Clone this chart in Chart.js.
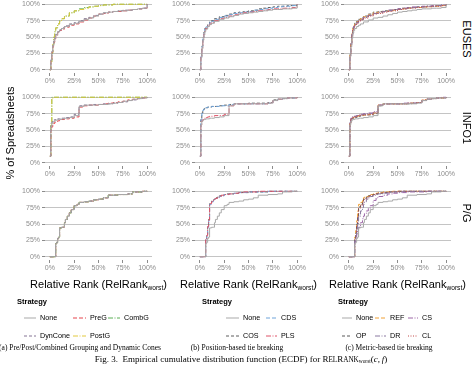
<!DOCTYPE html>
<html>
<head>
<meta charset="utf-8">
<script src="https://cdn.jsdelivr.net/npm/chart.js@4.4.0/dist/chart.umd.min.js"></script>
<style>
  body { margin: 0; background: #fff; width: 474px; height: 367px; overflow: hidden; position: relative;
         font-family: "Liberation Sans", Arial, sans-serif; color: #000; }
  .t { position: absolute; white-space: nowrap; line-height: 1; }
  .rot-l { transform: translate(-50%, -50%) rotate(-90deg); }
  .rot-r { transform: translate(-50%, -50%) rotate(90deg); }
  .cx { transform: translate(-50%, -50%); }
  .cy { transform: translateY(-50%); }
  .serif { font-family: "Liberation Serif", "Times New Roman", serif; }
  sub { font-size: 0.6em; vertical-align: -0.25em; }
  svg.key { position: absolute; overflow: visible; }
</style>
</head>
<body>
<script>
// x positions (relative rank, %)
var rankGrid = [0, 1, 2, 3, 4, 5, 6, 8, 10, 12, 15, 20, 25, 30, 35, 40, 45, 50, 55, 60, 65, 70, 75, 80, 85, 90, 95, 100];
var pgGrid = [0, 5, 6, 7, 8, 9, 10, 12, 14, 15, 16, 18, 20, 22, 25, 28, 30, 35, 40, 45, 50, 55, 60, 70, 80, 85, 90, 95, 100];
var tickValues = [0, 25, 50, 75, 100];

// EUSES - grouping / dynamic cones
var eusesA_None    = [0, 15, 28, 37, 43, 48, 53, 58, 61, 63, 66, 69, 71, 74, 77, 79, 82, 85, 87, 88, 89, 90, 90, 91, 92, 93, 94, 100];
var eusesA_PreG    = [0, 14, 27, 36, 42, 47, 52, 57, 60, 62, 65, 68, 70, 73, 76, 79, 82, 85, 86, 88, 89, 89, 90, 91, 92, 93, 94, 100];
var eusesA_CombG   = [0, 12, 25, 38, 50, 58, 64, 70, 75, 78, 82, 87, 90, 93, 95, 96, 97, 98, 99, 99, 100, 100, 100, 100, 100, 100, 100, 100];
var eusesA_DynCone = [0, 15, 28, 37, 44, 49, 54, 58, 61, 64, 67, 70, 72, 75, 78, 80, 83, 85, 87, 88, 89, 90, 91, 91, 92, 93, 94, 100];
var eusesA_PostG   = [0, 12, 26, 39, 50, 58, 64, 70, 74, 78, 82, 87, 90, 92, 94, 96, 97, 98, 99, 99, 100, 100, 100, 100, 100, 100, 100, 100];

// EUSES - position-based
var eusesB_None = [0, 18, 32, 45, 53, 58, 62, 66, 69, 71, 74, 77, 79, 81, 83, 85, 86, 87, 88, 89, 90, 91, 92, 92, 93, 93, 94, 100];
var eusesB_CDS  = [0, 20, 35, 48, 56, 62, 65, 69, 72, 74, 77, 80, 82, 84, 86, 87, 88, 89, 91, 92, 93, 94, 95, 96, 97, 97, 98, 100];
var eusesB_COS  = [0, 20, 36, 49, 57, 63, 66, 70, 73, 75, 78, 81, 83, 85, 87, 88, 89, 90, 91, 93, 94, 95, 96, 97, 97, 98, 98, 100];
var eusesB_PLS  = [0, 19, 33, 46, 54, 59, 63, 67, 70, 72, 75, 78, 80, 82, 84, 86, 87, 88, 89, 90, 91, 92, 93, 93, 94, 94, 95, 100];

// EUSES - metric-based
var eusesC_None = [0, 20, 35, 48, 56, 60, 63, 66, 68, 70, 73, 76, 79, 80, 82, 84, 86, 88, 89, 90, 91, 92, 93, 93, 94, 94, 95, 100];
var eusesC_REF  = [0, 22, 40, 55, 63, 67, 70, 73, 76, 78, 81, 84, 87, 88, 89, 90, 91, 92, 93, 94, 95, 95, 96, 96, 97, 97, 98, 100];
var eusesC_CS   = [0, 22, 40, 54, 62, 66, 69, 72, 75, 77, 80, 83, 86, 88, 89, 91, 92, 93, 94, 95, 96, 96, 97, 97, 98, 98, 99, 100];
var eusesC_OP   = [0, 23, 41, 56, 64, 68, 71, 74, 77, 79, 82, 85, 88, 89, 90, 91, 92, 93, 94, 95, 95, 96, 96, 97, 97, 98, 98, 100];
var eusesC_DR   = [0, 21, 39, 53, 61, 66, 69, 72, 75, 77, 80, 83, 86, 87, 89, 90, 91, 92, 93, 94, 95, 96, 96, 97, 97, 98, 99, 100];
var eusesC_CL   = [0, 21, 38, 52, 60, 65, 68, 71, 74, 76, 79, 82, 85, 86, 88, 89, 90, 92, 93, 94, 94, 95, 96, 96, 97, 97, 98, 100];

// INFO1 - grouping / dynamic cones
var infoA_None    = [10, 55, 60, 62, 63, 64, 65, 66, 66, 67, 68, 69, 72, 86, 88, 88, 88, 89, 89, 90, 91, 92, 94, 95, 97, 98, 99, 100];
var infoA_PreG    = [10, 50, 55, 58, 60, 62, 63, 64, 65, 66, 67, 68, 70, 85, 87, 88, 88, 89, 90, 91, 92, 93, 94, 96, 97, 98, 99, 100];
var infoA_CombG   = [10, 60, 100, 100, 100, 100, 100, 100, 100, 100, 100, 100, 100, 100, 100, 100, 100, 100, 100, 100, 100, 100, 100, 100, 100, 100, 100, 100];
var infoA_DynCone = [10, 56, 62, 64, 65, 66, 66, 67, 67, 68, 69, 70, 74, 87, 88, 88, 89, 89, 90, 90, 91, 92, 93, 95, 96, 98, 99, 100];
var infoA_PostG   = [10, 58, 98, 100, 100, 100, 100, 100, 100, 100, 100, 100, 100, 100, 100, 100, 100, 100, 100, 100, 100, 100, 100, 100, 100, 100, 100, 100];

// INFO1 - position-based
var infoB_None = [10, 58, 63, 65, 66, 66, 67, 67, 68, 68, 69, 70, 72, 87, 90, 90, 90, 90, 90, 90, 90, 91, 95, 97, 98, 99, 99, 100];
var infoB_CDS  = [10, 65, 75, 80, 82, 83, 84, 85, 85, 86, 86, 87, 87, 89, 90, 90, 90, 90, 90, 90, 90, 91, 95, 97, 98, 99, 99, 100];
var infoB_COS  = [10, 66, 76, 80, 82, 83, 84, 85, 85, 86, 86, 87, 88, 89, 90, 90, 90, 91, 91, 91, 91, 92, 96, 97, 98, 99, 99, 100];
var infoB_PLS  = [10, 58, 64, 66, 67, 68, 69, 70, 71, 71, 72, 72, 74, 87, 90, 90, 90, 90, 90, 90, 90, 91, 95, 97, 98, 99, 99, 100];

// INFO1 - metric-based
var infoC_None = [10, 58, 63, 65, 66, 66, 67, 67, 68, 68, 69, 70, 72, 87, 90, 90, 90, 90, 90, 90, 90, 91, 95, 97, 98, 99, 99, 100];
var infoC_REF  = [10, 60, 66, 68, 69, 70, 70, 71, 72, 72, 73, 74, 76, 88, 90, 90, 90, 90, 90, 91, 91, 92, 96, 97, 98, 99, 99, 100];
var infoC_CS   = [10, 62, 68, 70, 70, 71, 71, 72, 73, 74, 75, 76, 78, 88, 90, 90, 90, 90, 91, 91, 91, 92, 95, 97, 98, 99, 100, 100];
var infoC_OP   = [10, 60, 65, 67, 68, 69, 69, 70, 71, 72, 73, 73, 75, 87, 90, 90, 90, 90, 90, 90, 91, 92, 95, 97, 98, 99, 99, 100];
var infoC_DR   = [10, 61, 67, 69, 70, 70, 71, 72, 72, 73, 74, 75, 77, 88, 90, 90, 90, 90, 90, 91, 91, 92, 95, 97, 98, 99, 99, 100];
var infoC_CL   = [10, 60, 66, 68, 69, 69, 70, 71, 72, 73, 73, 74, 76, 88, 90, 90, 90, 90, 90, 91, 91, 92, 96, 97, 98, 99, 99, 100];

// P/G (all grouping strategies coincide)
var pgA_All  = [0, 0, 20, 22, 28, 30, 44, 45, 45, 52, 57, 62, 67, 72, 78, 80, 83, 84, 85, 87, 88, 90, 94, 95, 96, 99, 99, 100, 100];

// P/G - position-based
var pgB_None = [0, 0, 20, 22, 28, 30, 44, 45, 45, 52, 57, 62, 67, 72, 78, 80, 83, 84, 85, 87, 88, 90, 94, 95, 96, 99, 99, 100, 100];
var pgB_CDS  = [0, 0, 25, 32, 45, 55, 80, 84, 86, 88, 89, 90, 92, 93, 95, 95, 96, 97, 98, 98, 99, 99, 99, 100, 100, 100, 100, 100, 100];
var pgB_COS  = [0, 0, 27, 33, 47, 57, 82, 85, 87, 88, 90, 91, 93, 94, 95, 96, 96, 97, 98, 98, 99, 99, 99, 100, 100, 100, 100, 100, 100];
var pgB_PLS  = [0, 0, 26, 32, 46, 56, 81, 84, 86, 88, 89, 91, 92, 94, 95, 95, 96, 97, 98, 99, 99, 99, 100, 100, 100, 100, 100, 100, 100];

// P/G - metric-based
var pgC_None = [0, 0, 20, 22, 28, 30, 44, 45, 45, 52, 57, 62, 67, 72, 78, 80, 83, 84, 85, 87, 88, 90, 94, 95, 96, 99, 99, 100, 100];
var pgC_REF  = [0, 0, 30, 40, 55, 70, 80, 83, 86, 90, 91, 92, 93, 95, 96, 97, 98, 99, 99, 100, 100, 100, 100, 100, 100, 100, 100, 100, 100];
var pgC_CS   = [0, 0, 22, 28, 35, 40, 45, 52, 58, 62, 66, 70, 74, 78, 86, 90, 92, 94, 96, 97, 98, 98, 99, 99, 100, 100, 100, 100, 100];
var pgC_OP   = [0, 0, 28, 36, 50, 62, 76, 80, 84, 88, 89, 91, 93, 94, 95, 96, 97, 98, 99, 99, 100, 100, 100, 100, 100, 100, 100, 100, 100];
var pgC_DR   = [0, 0, 24, 32, 42, 50, 62, 70, 75, 80, 84, 88, 90, 92, 94, 95, 96, 97, 98, 99, 99, 100, 100, 100, 100, 100, 100, 100, 100];
var pgC_CL   = [0, 0, 26, 34, 48, 60, 74, 78, 82, 86, 88, 90, 92, 94, 95, 96, 97, 98, 99, 99, 100, 100, 100, 100, 100, 100, 100, 100, 100];

var rowLabels = ["EUSES", "INFO1", "P/G"];
var captions = ["(a) Pre/Post/Combined Grouping and Dynamic Cones", "(b) Position-based tie breaking", "(c) Metric-based tie breaking"];

var dashDot = [5, 1.5, 1, 1.5];
var styles = {
  None:    { color: "#a9a9a9", dash: [] },
  PreG:    { color: "#e5454d", dash: [4, 2] },
  CombG:   { color: "#5aae55", dash: dashDot },
  DynCone: { color: "#857494", dash: [3, 2] },
  PostG:   { color: "#e2c93e", dash: dashDot },
  CDS:     { color: "#6fa4da", dash: [4, 2] },
  COS:     { color: "#5c5c5c", dash: [3, 2] },
  PLS:     { color: "#de5368", dash: dashDot },
  REF:     { color: "#f0a035", dash: [4, 2] },
  CS:      { color: "#9c66a6", dash: dashDot },
  OP:      { color: "#585858", dash: [3, 2] },
  DR:      { color: "#8a78a0", dash: dashDot },
  CL:      { color: "#c24a48", dash: [1, 1.5] }
};

var panels = [
  { row: 0, col: 0, grid: rankGrid, series: [["None", eusesA_None], ["DynCone", eusesA_DynCone], ["PreG", eusesA_PreG], ["PostG", eusesA_PostG], ["CombG", eusesA_CombG]] },
  { row: 0, col: 1, grid: rankGrid, series: [["None", eusesB_None], ["PLS", eusesB_PLS], ["CDS", eusesB_CDS], ["COS", eusesB_COS]] },
  { row: 0, col: 2, grid: rankGrid, series: [["None", eusesC_None], ["CL", eusesC_CL], ["DR", eusesC_DR], ["CS", eusesC_CS], ["REF", eusesC_REF], ["OP", eusesC_OP]] },
  { row: 1, col: 0, grid: rankGrid, series: [["None", infoA_None], ["DynCone", infoA_DynCone], ["PreG", infoA_PreG], ["PostG", infoA_PostG], ["CombG", infoA_CombG]] },
  { row: 1, col: 1, grid: rankGrid, series: [["None", infoB_None], ["PLS", infoB_PLS], ["CDS", infoB_CDS], ["COS", infoB_COS]] },
  { row: 1, col: 2, grid: rankGrid, series: [["None", infoC_None], ["CL", infoC_CL], ["DR", infoC_DR], ["CS", infoC_CS], ["REF", infoC_REF], ["OP", infoC_OP]] },
  { row: 2, col: 0, grid: pgGrid, series: [["None", pgA_All], ["DynCone", pgA_All], ["CombG", pgA_All], ["PreG", pgA_All], ["PostG", pgA_All]] },
  { row: 2, col: 1, grid: pgGrid, series: [["None", pgB_None], ["PLS", pgB_PLS], ["CDS", pgB_CDS], ["COS", pgB_COS]] },
  { row: 2, col: 2, grid: pgGrid, series: [["None", pgC_None], ["DR", pgC_DR], ["CS", pgC_CS], ["CL", pgC_CL], ["OP", pgC_OP], ["REF", pgC_REF]] }
];

// legend layout per column: [name, row, lineX, textX]
var legendItems = [
  [["None", 0, 24, 40], ["PreG", 0, 73, 90], ["CombG", 0, 108, 124], ["DynCone", 1, 24, 40], ["PostG", 1, 73, 90]],
  [["None", 0, 226, 243], ["CDS", 0, 266, 281], ["COS", 1, 226, 243], ["PLS", 1, 266, 281]],
  [["None", 0, 342, 356], ["REF", 0, 375, 390], ["CS", 0, 408, 422], ["OP", 1, 342, 356], ["DR", 1, 375, 390], ["CL", 1, 408, 422]]
];
var strategyX = [17, 202, 338];

var areaLeft = [45, 195, 344], areaTop = [1, 94, 188];
var areaW = 107, areaH = 72, yAxisW = 32, xAxisH = 16, padTop = 8, padRight = 8;
var tickFont = { family: "'Liberation Sans', Arial, sans-serif", size: 7 };

function setTicks(scale) {
  scale.ticks = tickValues.map(function (v) { return { value: v }; });
}

function addText(html, x, y, cls, style) {
  var d = document.createElement("div");
  d.className = "t " + cls;
  d.innerHTML = html;
  d.style.left = x + "px";
  d.style.top = y + "px";
  if (style) d.style.cssText += style;
  document.body.appendChild(d);
}

panels.forEach(function (p) {
  var cv = document.createElement("canvas");
  cv.width = yAxisW + areaW + padRight;
  cv.height = padTop + areaH + xAxisH;
  cv.style.cssText = "position:absolute;left:" + (areaLeft[p.col] - yAxisW) + "px;top:" + (areaTop[p.row] - padTop) + "px;";
  document.body.appendChild(cv);

  new Chart(cv, {
    type: "line",
    data: {
      datasets: p.series.map(function (s) {
        var st = styles[s[0]];
        return {
          label: s[0],
          data: p.grid.map(function (x, i) { return { x: x, y: s[1][i] }; }),
          borderColor: st.color,
          borderDash: st.dash,
          borderWidth: 1,
          pointRadius: 0,
          stepped: true,
          fill: false
        };
      })
    },
    options: {
      responsive: false,
      animation: false,
      events: [],
      layout: { padding: { top: padTop, right: padRight, left: 0, bottom: 0 } },
      plugins: { legend: { display: false }, tooltip: { enabled: false } },
      scales: {
        x: {
          type: "linear", min: -5, max: 105,
          afterBuildTicks: setTicks,
          afterFit: function (s) { s.height = xAxisH; },
          grid: { drawOnChartArea: false, drawTicks: true, tickLength: 3, tickColor: "#8c8c8c" },
          border: { display: false },
          ticks: { font: tickFont, color: "#8c8c8c", padding: 1, maxRotation: 0, callback: function (v) { return v + "%"; } }
        },
        y: {
          type: "linear", min: -5, max: 105,
          afterBuildTicks: setTicks,
          afterFit: function (s) { s.width = yAxisW; },
          grid: { color: "#c4c4c4", lineWidth: 1, drawTicks: true, tickLength: 3, tickColor: "#8c8c8c" },
          border: { display: false },
          ticks: { font: tickFont, color: "#8c8c8c", padding: 2, callback: function (v) { return v + "%"; } }
        }
      }
    }
  });
});

// axis titles and strip labels
addText("% of Spreadsheets", 10, 133, "rot-l", "font-size:11px;");
var stripY = [39, 128, 213];
rowLabels.forEach(function (t, i) { addText(t, 466, stripY[i], "rot-r", "font-size:11px;"); });
areaLeft.forEach(function (l) {
  addText("Relative Rank (RelRank<sub>worst</sub>)", l + areaW / 2, 285, "cx", "font-size:11px;");
});

// legends
strategyX.forEach(function (x) { addText("Strategy", x, 302, "cy", "font-size:7.5px;font-weight:bold;"); });
var legendRowY = [318, 336];
legendItems.forEach(function (items) {
  items.forEach(function (it) {
    var st = styles[it[0]];
    var y = legendRowY[it[1]];
    var len = it[3] - it[2] - 4;
    var svg = document.createElementNS("http://www.w3.org/2000/svg", "svg");
    svg.setAttribute("class", "key");
    svg.setAttribute("width", len);
    svg.setAttribute("height", 2);
    svg.style.left = it[2] + "px";
    svg.style.top = (y - 1) + "px";
    svg.innerHTML = '<line x1="0" y1="1" x2="' + len + '" y2="1" stroke="' + st.color + '" stroke-width="1" stroke-dasharray="' + st.dash.join(" ") + '"/>';
    document.body.appendChild(svg);
    addText(it[0], it[3], y, "cy", "font-size:7.2px;");
  });
});

// captions
var captionX = [80, 237, 389];
captions.forEach(function (c, i) { addText(c, captionX[i], 348, "cx serif", "font-size:7.5px;"); });
addText("Fig. 3.&nbsp;&nbsp;Empirical cumulative distribution function (ECDF) for R<span style='font-size:0.8em'>EL</span>R<span style='font-size:0.8em'>ANK</span><sub>worst</sub>(<i>c</i>,&thinsp;<i>f</i>)",
  241, 360, "cx serif", "font-size:9px;");
</script>
</body>
</html>
